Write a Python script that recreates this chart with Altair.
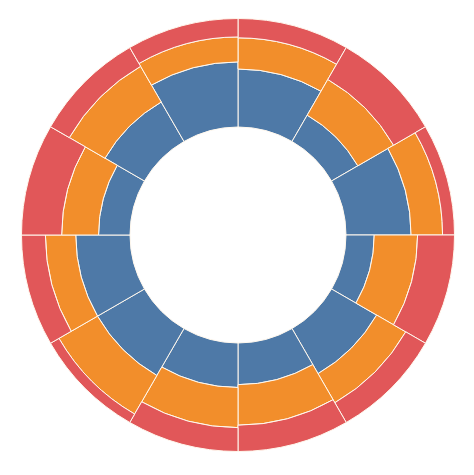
import math
import altair as alt
import pandas as pd

# 12 angular categories, three stacked series (normalised per category)
categories = list(range(12))
series = ["A", "B", "C"]
values_a = [54, 28, 60, 26, 48, 38, 41, 50, 50, 29, 42, 60]
values_b = [29, 38, 29, 40, 31, 37, 37, 41, 28, 34, 38, 23]
values_c = [18, 34, 11, 34, 21, 24, 22, 9, 22, 37, 20, 17]
colors = ["#4e79a7", "#f28e2b", "#e15759"]

rows = []
for s_idx, (name, vals) in enumerate(zip(series, [values_a, values_b, values_c])):
    for c, v in zip(categories, vals):
        rows.append({"cat": c, "series": name, "order": s_idx, "value": v})
df = pd.DataFrame(rows)

chart = (
    alt.Chart(df)
    .transform_stack(
        stack="value",
        groupby=["cat"],
        as_=["r_start", "r_end"],
        offset="normalize",
        sort=[alt.SortField("order", order="ascending")],
    )
    .transform_calculate(t_start="datum.cat", t_end="datum.cat + 1")
    .mark_arc(stroke="#fff8ee", strokeWidth=1)
    .encode(
        theta=alt.Theta(
            "t_start:Q",
            stack=False,
            scale=alt.Scale(type="linear", domain=[0, 12], range=[0, 2 * math.pi]),
        ),
        theta2="t_end:Q",
        radius=alt.Radius(
            "r_start:Q",
            stack=False,
            scale=alt.Scale(type="linear", domain=[0, 1], range=[108, 216.5], zero=False),
        ),
        radius2="r_end:Q",
        color=alt.Color(
            "series:N",
            scale=alt.Scale(domain=series, range=colors),
            legend=None,
        ),
    )
    .properties(
        width=450,
        height=444,
        padding={"left": 5, "top": 5, "right": 0, "bottom": 0},
    )
    .configure_view(strokeWidth=0)
)

chart.save("out.html", embed_options={"renderer": "svg", "actions": False})
